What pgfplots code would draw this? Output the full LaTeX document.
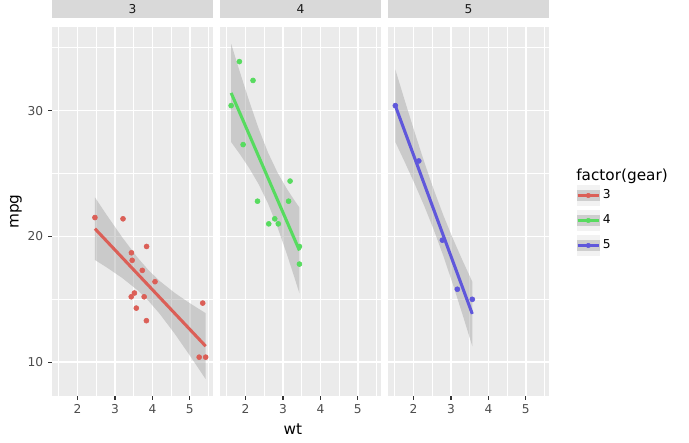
\documentclass[border=0pt]{standalone}
\usepackage{fontspec}
\setmainfont{DejaVu Sans}
\usepackage{pgfplots}
\pgfplotsset{compat=1.18}

\definecolor{c3}{HTML}{DB5F57}
\definecolor{c4}{HTML}{57DB5F}
\definecolor{c5}{HTML}{5F57DB}
\definecolor{panelbg}{HTML}{EBEBEB}
\definecolor{stripbg}{HTML}{D9D9D9}
\definecolor{stripc}{HTML}{1A1A1A}
\definecolor{tickc}{HTML}{333333}
\definecolor{labc}{HTML}{4D4D4D}
\definecolor{bandc}{HTML}{999999}
\definecolor{keybg}{HTML}{F2F2F2}
\definecolor{keyband}{HTML}{CECECE}

\pgfplotsset{
  facet/.style={
    scale only axis, width=115.92pt, height=265.68pt,
    xmin=1.31745, xmax=5.61955, ymin=7.3125, ymax=36.6495,
    clip=false,
    axis line style={draw=none},
    axis background/.style={fill=panelbg},
    xtick={2,3,4,5}, ytick={10,20,30},
    extra x ticks={1.5,2.5,3.5,4.5,5.5}, extra y ticks={15,25,35},
    extra x tick labels={}, extra y tick labels={},
    extra tick style={major tick length=0pt,
      major grid style={white, line width=0.7pt}},
    grid=major,
    major grid style={white, line width=1.1pt},
    tick align=outside, major tick length=2.75pt,
    tick pos=left,
    tick style={draw=tickc, line width=0.9pt},
    ticklabel style={font=\fontsize{8.8}{10}\selectfont, text=labc},
    /pgf/number format/assume math mode=true,
    title style={at={(0.5,1)}, anchor=south, yshift=0pt, fill=stripbg,
      minimum width=115.92pt, minimum height=13.68pt, inner sep=0pt,
      text=stripc, font=\fontsize{8.8}{10}\selectfont},
  },
  band/.style={draw=none, fill=bandc, fill opacity=0.4, forget plot},
  fit/.style={line width=2.2pt, forget plot},
  pts/.style={only marks, mark=*, mark size=1.8pt, forget plot},
  gkey/.style={legend image code/.code={
    \fill[keybg] (0pt,-7.2pt) rectangle (15.6pt,7.2pt);
    \fill[keyband] (0pt,-3.6pt) rectangle (15.6pt,3.6pt);
    \draw[#1, line width=2.2pt] (0pt,0pt) -- (15.6pt,0pt);
    \fill[#1] (7.8pt,0pt) circle (1.6pt);
  }},
}

\begin{document}
\begin{tikzpicture}
\useasboundingbox (-37.44pt,-33.84pt) rectangle (458.64pt,285.12pt);

% gear 3
\begin{axis}[facet, at={(0pt,0pt)}, anchor=south west, title={3}]
\addplot[pts, c3] coordinates {
  (3.215,21.4) (3.440,18.7) (3.460,18.1) (3.570,14.3) (4.070,16.4)
  (3.730,17.3) (3.780,15.2) (5.250,10.4) (5.424,10.4) (5.345,14.7)
  (2.465,21.5) (3.520,15.5) (3.435,15.2) (3.840,13.3) (3.845,19.2)};
\addplot[band] coordinates {
  (2.465,23.101) (2.8,21.615) (3.2,19.904) (3.6,18.331) (3.9,17.304)
  (4.2,16.443) (4.6,15.500) (5.0,14.689) (5.424,13.898)
  (5.424,8.646) (5.0,10.533) (4.6,12.248) (4.2,13.829) (3.9,14.862)
  (3.6,15.731) (3.2,16.682) (2.8,17.497) (2.465,18.127)} -- cycle;
\addplot[fit, c3] coordinates {(2.465,20.614) (5.424,11.272)};
\node[rotate=90, font=\fontsize{11}{13}\selectfont] at (rel axis cs:-0.2236,0.5) {mpg};
\end{axis}

% gear 4
\begin{axis}[facet, at={(120.96pt,0pt)}, anchor=south west, title={4},
  yticklabels={}, ytick style={draw=none}]
\addplot[pts, c4] coordinates {
  (2.620,21.0) (2.875,21.0) (2.320,22.8) (3.190,24.4) (3.150,22.8)
  (3.440,19.2) (3.440,17.8) (2.200,32.4) (1.615,30.4) (1.835,33.9)
  (1.935,27.3) (2.780,21.4)};
\addplot[band] coordinates {
  (1.615,35.316) (1.85,33.057) (2.1,30.737) (2.35,28.574) (2.6,26.671)
  (2.85,25.099) (3.1,23.803) (3.3,22.892) (3.44,22.295)
  (3.44,15.469) (3.3,16.794) (3.1,18.629) (2.85,20.765) (2.6,22.625)
  (2.35,24.154) (2.1,25.421) (1.85,26.533) (1.615,27.500)} -- cycle;
\addplot[fit, c4] coordinates {(1.615,31.408) (3.44,18.882)};
\node[font=\fontsize{11}{13}\selectfont] at (rel axis cs:0.453,-0.0908) {wt};
\end{axis}

% gear 5
\begin{axis}[facet, at={(241.92pt,0pt)}, anchor=south west, title={5},
  yticklabels={}, ytick style={draw=none},
  legend style={at={(rel axis cs:1.166,0.572)}, anchor=north west,
    draw=none, fill=none, inner sep=0pt, row sep=3.2pt,
    nodes={inner sep=1.5pt, text=black, font=\fontsize{8.8}{10}\selectfont}},
  legend cell align=left]
\addlegendimage{gkey=c3}
\addlegendimage{gkey=c4}
\addlegendimage{gkey=c5}
\addplot[pts, c5] coordinates {
  (2.140,26.0) (1.513,30.4) (3.170,15.8) (2.770,19.7) (3.570,15.0)};
\addplot[band] coordinates {
  (1.513,33.273) (1.77,30.761) (2.02,28.368) (2.28,25.970) (2.54,23.717)
  (2.8,21.653) (3.05,19.840) (3.31,18.080) (3.57,16.403)
  (3.57,11.273) (3.31,13.778) (3.05,16.204) (2.8,18.413) (2.54,20.533)
  (2.28,22.464) (2.02,24.250) (1.77,25.881) (1.513,27.505)} -- cycle;
\addplot[fit, c5] coordinates {(1.513,30.389) (3.57,13.838)};
\legend{3,4,5}
\node[anchor=base west, inner sep=0pt, font=\fontsize{11}{13}\selectfont] at (rel axis cs:1.168,0.585) {factor(gear)};
\end{axis}
\end{tikzpicture}
\end{document}
